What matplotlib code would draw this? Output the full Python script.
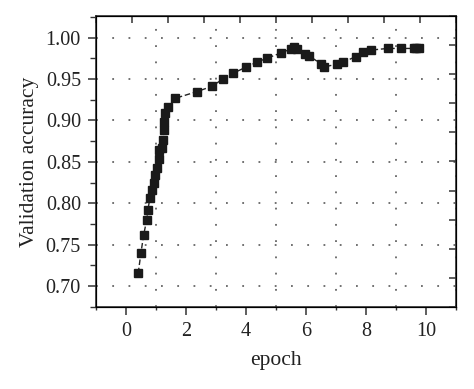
import matplotlib.pyplot as plt
import numpy as np

# waarden
epoch = [0.40, 0.49, 0.58, 0.68, 0.72, 0.79, 0.86, 0.92, 0.96, 1.03,
         1.09, 1.11, 1.21, 1.24, 1.25, 1.27, 1.30, 1.41, 1.63, 2.36,
         2.85, 3.23, 3.56, 4.00, 4.37, 4.68, 5.15, 5.51, 5.60, 5.70,
         5.95, 6.10, 6.49, 6.60, 7.04, 7.22, 7.65, 7.89, 8.16, 8.72,
         9.17, 9.59, 9.68, 9.76]
val_acc = [0.7156, 0.7397, 0.7614, 0.7794, 0.7915, 0.8060, 0.8155, 0.8248, 0.8340, 0.8430,
           0.8530, 0.8640, 0.8670, 0.8760, 0.8880, 0.8986, 0.9090, 0.9160, 0.9266, 0.9347,
           0.9410, 0.9500, 0.9567, 0.9644, 0.9704, 0.9748, 0.9812, 0.9864, 0.9888, 0.9864,
           0.9804, 0.9780, 0.9683, 0.9644, 0.9680, 0.9700, 0.9768, 0.9824, 0.9848, 0.9868,
           0.9868, 0.9868, 0.9868, 0.9868]

x_ticks = [0, 2, 4, 6, 8, 10]
y_ticks = [0.70, 0.75, 0.80, 0.85, 0.90, 0.95, 1.00]

plt.rcParams['font.family'] = ['Liberation Serif', 'DejaVu Serif']
plt.rcParams['font.size'] = 14.5

fig = plt.figure(figsize=(4.74, 3.89), dpi=100)
ax = fig.add_axes([0.203, 0.211, 0.759, 0.748])

ax.plot(epoch, val_acc, color="#222222", linestyle=(0, (4, 2)), linewidth=1.0,
        marker="s", markersize=6, markerfacecolor="#1a1a1a", markeredgecolor="#1a1a1a")

ax.set_xlim(-1, 11)
ax.set_ylim(0.675, 1.026)
ax.set_xticks(x_ticks)
ax.set_xticks([-1, 1, 3, 5, 7, 9, 11], minor=True)
ax.set_yticks(y_ticks)
ax.set_yticks(np.arange(0.675, 1.026, 0.025), minor=True)
ax.set_yticklabels([f"{v:.2f}" for v in y_ticks])

ax.tick_params(which="major", direction="out", length=6, width=1.1, colors="#333333",
               labelcolor="#222222", pad=5)
ax.tick_params(which="minor", direction="out", length=4, width=1.0, colors="#333333")
ax.tick_params(axis="x", which="minor", length=2)

ax.grid(axis="x", which="minor", color="#666666", linestyle=(0, (1, 8)), linewidth=1.3)
ax.grid(axis="y", which="major", color="#666666", linestyle=(0, (1, 8)), linewidth=1.3)
ax.set_axisbelow(True)

for s in ax.spines.values():
    s.set_linewidth(1.2)
    s.set_color("#333333")

# ticks aan boven- en rechterkant (10 gelijke delen, naar binnen)
axt = ax.twiny()
axt.set_xlim(0, 1)
axt.set_xticks(np.linspace(0, 1, 11))
axt.tick_params(direction="in", length=5, width=1.1, colors="#333333", labeltop=False)
axr = ax.twinx()
axr.set_ylim(0, 1)
axr.set_yticks(np.linspace(0, 1, 11))
axr.tick_params(direction="in", length=5, width=1.1, colors="#333333", labelright=False)

ax.set_xlabel("epoch", color="#222222", labelpad=7, fontsize=15.5)
ax.set_ylabel("Validation accuracy", color="#222222", labelpad=5, fontsize=15.5)

fig.savefig("out.png", dpi=100)
